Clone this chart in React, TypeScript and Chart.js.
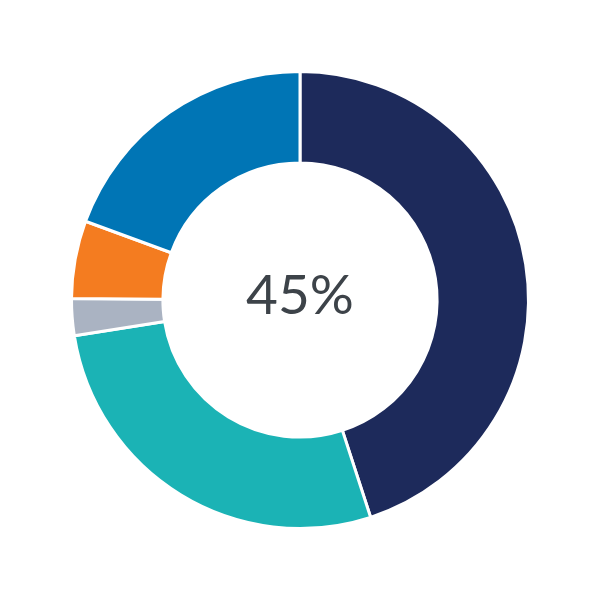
import React, { useEffect, useRef } from "react";
import { Chart, registerables } from "chart.js";

Chart.register(...registerables);

const categories = ["Navy", "Teal", "Gray", "Orange", "Blue"];
const values = [45, 27.5, 2.6, 5.5, 19.4];
const colors = ["#1d2a5b", "#1bb3b5", "#aab3c2", "#f47c20", "#0075b5"];
const centerLabel = "45%";

const centerTextPlugin = {
  id: "centerText",
  afterDraw(chart: any) {
    const { ctx, chartArea } = chart;
    const cx = (chartArea.left + chartArea.right) / 2;
    const cy = (chartArea.top + chartArea.bottom) / 2;
    ctx.save();
    ctx.font = "400 55px Lato, 'Open Sans', sans-serif";
    ctx.fillStyle = "#3d4349";
    ctx.textAlign = "center";
    ctx.textBaseline = "middle";
    ctx.fillText(centerLabel, cx, cy - 4);
    ctx.restore();
  },
};

export default function App() {
  const ref = useRef<HTMLCanvasElement>(null);
  useEffect(() => {
    if (!ref.current) return;
    const chart = new Chart(ref.current, {
      type: "doughnut",
      data: {
        labels: categories,
        datasets: [
          {
            data: values,
            backgroundColor: colors,
            borderColor: "#ffffff",
            borderWidth: 3,
            hoverOffset: 0,
          },
        ],
      },
      options: {
        animation: false,
        responsive: false,
        cutout: "60%",
        layout: { padding: 70 },
        plugins: {
          legend: { display: false },
          tooltip: { enabled: false },
        },
      },
      plugins: [centerTextPlugin],
    });
    return () => chart.destroy();
  }, []);
  return (
    <div style={{ position: "absolute", left: 0, top: 0, width: 600, height: 600, background: "#fff" }}>
      <canvas ref={ref} width={600} height={600} />
    </div>
  );
}
